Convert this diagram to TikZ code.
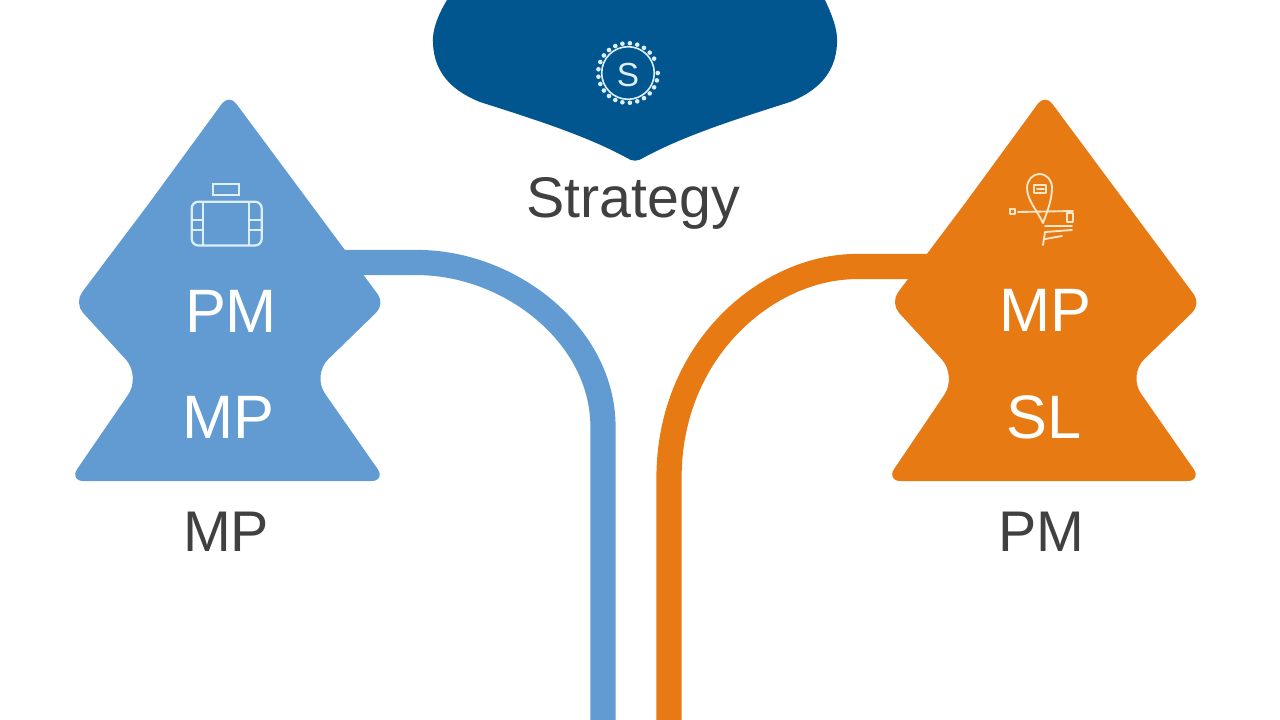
\documentclass[tikz,border=0pt]{standalone}
\usepackage{fontspec}
\setmainfont{Liberation Sans}
\definecolor{pmblue}{HTML}{619BD2}
\definecolor{mporange}{HTML}{E87A14}
\definecolor{stratblue}{HTML}{02568F}
\definecolor{labelgrey}{HTML}{404040}
\definecolor{iconblue}{HTML}{DCEFFB}
\definecolor{iconorange}{HTML}{FBE6C8}
\tikzset{
  insidetext/.style={anchor=base,text=white,inner sep=0pt,font=\fontsize{46}{50}\selectfont},
  labeltext/.style={anchor=base,text=labelgrey,inner sep=0pt,font=\fontsize{43}{50}\selectfont},
  routeline/.style={line width=18.9pt,line cap=butt},
  iconline/.style={line width=1.7pt,draw=iconblue},
  sketchline/.style={line width=1.4pt,draw=iconorange,line cap=round,line join=round},
}
\begin{document}
\begin{tikzpicture}[x=0.75pt,y=-0.75pt]
\useasboundingbox (0,0) rectangle (1280,720);
\fill[white] (0,0) rectangle (1280,720);

% anchors of the routes
\coordinate (pmjoin) at (340,262.5);
\coordinate (pmbottom) at (603,720);
\coordinate (mpjoin) at (940,266.5);
\coordinate (mpbottom) at (669,720);

% routes
\draw[routeline,pmblue] (pmjoin) -- (417,262.5) .. controls (510,262.5) and (603,335) .. (603,427) -- (pmbottom);
\draw[routeline,mporange] (mpjoin) -- (857,266.5) .. controls (767,266.5) and (669,350) .. (669,478) -- (mpbottom);

% left arrow shape
\fill[pmblue,rounded corners=9pt]
  (150,202) -- (229,94) -- (385,304)
  [rounded corners=17pt] -- (312,375)
  [rounded corners=11pt] -- (386,481) -- (69,481)
  [rounded corners=17pt] -- (141,376)
  [rounded corners=10pt] -- (74,303) -- cycle;

% right arrow shape
\fill[mporange,rounded corners=9pt]
  (966,202) -- (1045,94) -- (1201,304)
  [rounded corners=17pt] -- (1128,375)
  [rounded corners=11pt] -- (1202,481) -- (886,481)
  [rounded corners=17pt] -- (957,376)
  [rounded corners=10pt] -- (890,303) -- cycle;

% top shape
\fill[stratblue]
  (447,0) .. controls (438,15) and (432,30) .. (433,43)
  .. controls (434,75) and (455,92) .. (480,102)
  .. controls (530,118) and (585,135) .. (627,158)
  .. controls (632,161.5) and (638,161.5) .. (643,158)
  .. controls (685,135) and (740,118) .. (790,102)
  .. controls (815,92) and (836,75) .. (837,43)
  .. controls (838,30) and (832,15) .. (825,0) -- cycle;

% S badge
\draw[iconblue,line width=1.2pt] (628,73) circle[radius=26.3];
\foreach \a in {0,14.4,...,345}
  \fill[iconblue] (628,73) ++(\a:29.8) circle[radius=2.3];
\node[inner sep=0pt,anchor=base,text=iconblue,font=\fontsize{25}{30}\selectfont] (badge) at (628,87) {S};

% suitcase icon
\draw[iconline] (212.7,184.3) rectangle (238.7,195.3);
\draw[iconline,rounded corners=5pt] (191.7,201.7) rectangle (261.7,245.5);
\draw[iconline] (203.3,201.7) -- (203.3,245.5) (249.3,201.7) -- (249.3,245.5)
  (191.7,220) -- (203.3,220) (191.7,230) -- (203.3,230)
  (249.3,220) -- (261.7,220) (249.3,230) -- (261.7,230);

% pin sketch icon
\draw[sketchline] (1043,223) .. controls (1038,212) and (1027,200) .. (1027,188)
  .. controls (1027,180) and (1033,174) .. (1039,174)
  .. controls (1047,174) and (1052,180) .. (1052,188)
  .. controls (1052,200) and (1047,212) .. (1043,223);
\draw[sketchline] (1034,185) rectangle (1046,193);
\draw[sketchline] (1037,189) -- (1044,189);
\draw[sketchline] (1018,212) -- (1073,211);
\draw[sketchline] (1010,209) rectangle (1015,214);
\draw[sketchline] (1067,213) rectangle (1073,222);
\draw[sketchline] (1045,226) -- (1072,226);
\draw[sketchline] (1045,232) -- (1072,230);
\draw[sketchline] (1043,245) -- (1045,232);
\draw[sketchline] (1045,239) -- (1062,236);

% inside texts
\node[insidetext] (pmtop) at (231,332) {PM};
\node[insidetext] (mpbot) at (228,438) {MP};
\node[insidetext] (mptop) at (1045,331) {MP};
\node[insidetext] (slbot) at (1044,438) {SL};

% outside labels
\node[labeltext] (strategy) at (633,218) {Strategy};
\node[labeltext] (leftlabel) at (226,551) {MP};
\node[labeltext] (rightlabel) at (1041,551) {PM};
\end{tikzpicture}
\end{document}
